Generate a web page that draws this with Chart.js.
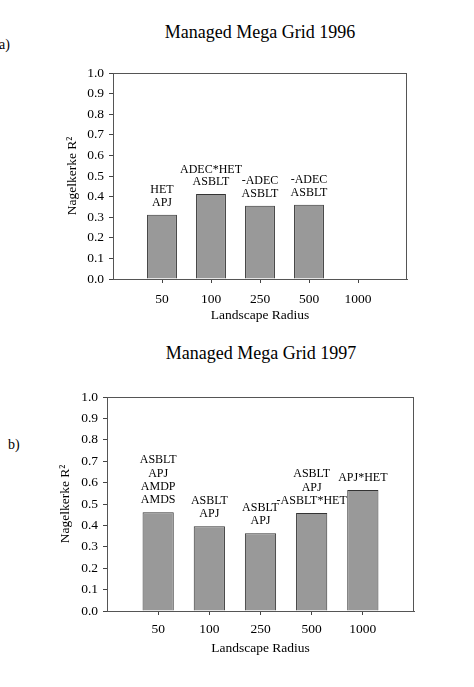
<!DOCTYPE html>
<html>
<head>
<meta charset="utf-8">
<script src="https://cdn.jsdelivr.net/npm/chart.js@4/dist/chart.umd.min.js"></script>
<style>
  body { margin: 0; background: #fff; }
  #wrap { position: relative; width: 474px; height: 687px; overflow: hidden; font-family: "Liberation Serif", "Times New Roman", serif; color: #000; }
  canvas { position: absolute; left: 0; }
  .title { position: absolute; font-size: 18px; white-space: nowrap; transform: translate(-50%, -50%); }
  .panel { position: absolute; font-size: 14px; transform: translateY(-50%); }
</style>
</head>
<body>
<div id="wrap">
  <div class="panel" style="left:-1px; top:45px;">a)</div>
  <div class="title" style="left:260px; top:32px;">Managed Mega Grid 1996</div>
  <canvas id="chart-a" width="474" height="330" style="top:0"></canvas>

  <div class="title" style="left:261px; top:353px;">Managed Mega Grid 1997</div>
  <div class="panel" style="left:8px; top:445px;">b)</div>
  <canvas id="chart-b" width="474" height="357" style="top:330px"></canvas>
</div>
<script>
    // Données
    const radii = ['50', '100', '250', '500', '1000'];
    const r2_1996 = [0.312, 0.413, 0.356, 0.361, null];
    const r2_1997 = [0.461, 0.396, 0.363, 0.458, 0.566];
    const terms_1996 = [['HET', 'APJ'], ['ADEC*HET', 'ASBLT'], ['-ADEC', 'ASBLT'], ['-ADEC', 'ASBLT'], []];
    const terms_1997 = [['ASBLT', 'APJ', 'AMDP', 'AMDS'], ['ASBLT', 'APJ'], ['ASBLT', 'APJ'], ['ASBLT', 'APJ', '-ASBLT*HET'], ['APJ*HET']];
    const yTicks = [0, 1, 0.1]; // min, max, pas

    const serif = '"Liberation Serif", "Times New Roman", serif';

    // cadre autour de la zone du graphique
    const framePlugin = {
        id: 'frame',
        afterDraw(chart) {
            const a = chart.chartArea;
            const ctx = chart.ctx;
            ctx.save();
            ctx.strokeStyle = '#555';
            ctx.lineWidth = 1;
            ctx.strokeRect(a.left + 0.5, a.top + 0.5, a.right - a.left - 1, a.bottom - a.top);
            ctx.restore();
        }
    };

    // étiquettes multi-lignes au-dessus des barres
    const termsPlugin = {
        id: 'terms',
        afterDatasetsDraw(chart, args, opts) {
            const meta = chart.getDatasetMeta(0);
            const ctx = chart.ctx;
            ctx.save();
            ctx.font = '12px ' + serif;
            ctx.fillStyle = '#000';
            ctx.textAlign = 'center';
            ctx.textBaseline = 'alphabetic';
            meta.data.forEach(function(bar, i) {
                const lines = opts.lines[i] || [];
                if (!lines.length || isNaN(bar.y)) return;
                const n = lines.length;
                lines.forEach(function(txt, j) {
                    ctx.fillText(txt, bar.x, bar.y - opts.gap - (n - 1 - j) * opts.lineHeight);
                });
            });
            ctx.restore();
        }
    };

    function makeChart(id, values, terms, box) {
        const points = values.map(function(v, i) { return {x: i + 1, y: v}; });
        return new Chart(document.getElementById(id), {
            type: 'bar',
            data: {
                datasets: [{
                    data: points,
                    backgroundColor: '#999999',
                    borderColor: '#333333',
                    borderWidth: 1,
                    barPercentage: 0.61,
                    categoryPercentage: 1
                }]
            },
            options: {
                responsive: false,
                animation: false,
                devicePixelRatio: 1,
                layout: { padding: { left: 0, right: box.right, top: box.top, bottom: box.bottom } },
                plugins: {
                    legend: { display: false },
                    tooltip: { enabled: false },
                    terms: { lines: terms, gap: 9, lineHeight: box.lineHeight }
                },
                scales: {
                    x: {
                        type: 'linear',
                        min: 0,
                        max: 6,
                        offset: false,
                        afterFit: function(scale) { scale.height = box.xHeight; },
                        ticks: {
                            stepSize: 1,
                            padding: box.xTickPad,
                            maxRotation: 0,
                            autoSkip: false,
                            color: '#000',
                            font: { family: serif, size: 13.5 },
                            callback: function(v) { return (v >= 1 && v <= 5) ? radii[v - 1] : ''; }
                        },
                        grid: {
                            drawOnChartArea: false,
                            offset: false,
                            tickLength: 4,
                            color: function(ctx) {
                                const v = ctx.tick ? ctx.tick.value : 0;
                                return (v >= 1 && v <= 5) ? '#444' : 'rgba(0,0,0,0)';
                            }
                        },
                        border: { display: true, color: '#555' },
                        title: {
                            display: true,
                            text: 'Landscape Radius',
                            color: '#000',
                            padding: 0,
                            font: { family: serif, size: 13.5 }
                        }
                    },
                    y: {
                        min: yTicks[0],
                        max: yTicks[1],
                        afterFit: function(scale) { scale.width = box.yWidth; },
                        ticks: {
                            stepSize: yTicks[2],
                            padding: 5,
                            color: '#000',
                            font: { family: serif, size: 13.5 },
                            callback: function(v) { return v.toFixed(1); }
                        },
                        grid: { drawOnChartArea: false, tickLength: 4, color: '#444' },
                        border: { display: true, color: '#555' },
                        title: {
                            display: true,
                            text: 'Nagelkerke R²',
                            color: '#000',
                            padding: { top: box.yTitlePad, bottom: 0 },
                            font: { family: serif, size: 13.5 }
                        }
                    }
                }
            },
            plugins: [framePlugin, termsPlugin]
        });
    }

    makeChart('chart-a', r2_1996, terms_1996,
        { right: 67, top: 73, bottom: 6, xHeight: 45, xTickPad: 8, yWidth: 113, yTitlePad: 64, lineHeight: 12.4 });
    makeChart('chart-b', r2_1997, terms_1997,
        { right: 60, top: 67, bottom: 30, xHeight: 46, xTickPad: 6, yWidth: 107, yTitlePad: 57, lineHeight: 13.3 });
</script>
</body>
</html>
